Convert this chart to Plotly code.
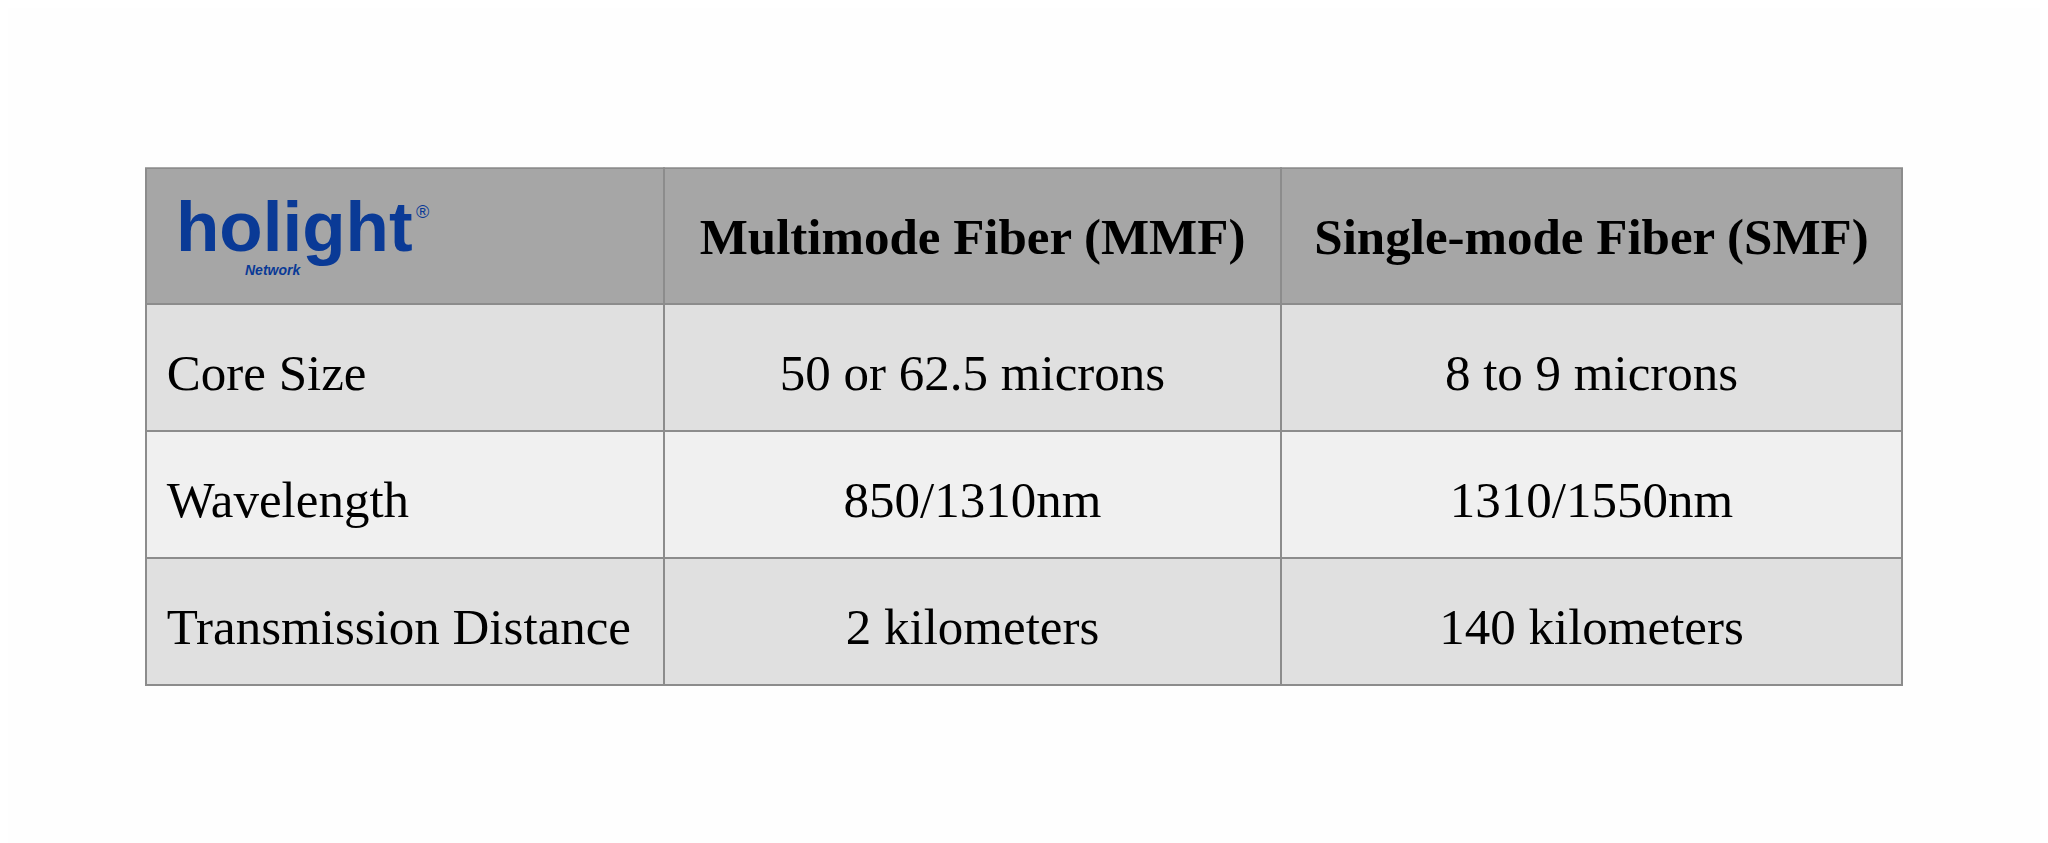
import plotly.graph_objects as go

header = ["", "Multimode Fiber (MMF)", "Single-mode Fiber (SMF)"]
features = ["Core Size", "Wavelength", "Transmission Distance"]
mmf = ["50 or 62.5 microns", "850/1310nm", "2 kilometers"]
smf = ["8 to 9 microns", "1310/1550nm", "140 kilometers"]
row_fill = ["#e0e0e0", "#f0f0f0", "#e0e0e0"]

# spacers push text toward the vertical middle of each cell
def spaced(txt, px):
    return "<span style='font-size:%dpx'> </span><br>%s" % (px, txt)

head_txt = [spaced("<b>%s</b>" % h, 14) if h else "" for h in header]
feat_txt = [spaced("&nbsp;" + f, 14) for f in features]
mmf_txt = [spaced(v, 14) for v in mmf]
smf_txt = [spaced(v, 14) for v in smf]

fig = go.Figure(go.Table(
    domain=dict(x=[138 / 2048, 1894 / 2048], y=[0.18, 0.81]),
    columnwidth=[518, 617, 621],
    header=dict(values=head_txt, fill_color="#a6a6a6", height=136,
                line=dict(color="#8c8c8c", width=1.5),
                align=["left", "center", "center"],
                font=dict(family="Liberation Serif", size=51, color="black")),
    cells=dict(values=[feat_txt, mmf_txt, smf_txt], fill_color=[row_fill] * 3, height=127,
               line=dict(color="#8c8c8c", width=1.5),
               align=["left", "center", "center"],
               font=dict(family="Liberation Serif", size=51, color="black")),
))

# logo
fig.add_annotation(x=166 / 2048, y=1 - 218 / 843, xref="paper", yref="paper",
                   text="<b>holight</b>", showarrow=False, xanchor="left", yanchor="middle",
                   font=dict(family="Liberation Sans", size=71, color="#0a3a96"))
fig.add_annotation(x=406 / 2048, y=1 - 204 / 843, xref="paper", yref="paper",
                   text="®", showarrow=False, xanchor="left", yanchor="middle",
                   font=dict(family="Liberation Sans", size=18, color="#0a3a96"))
fig.add_annotation(x=295 / 2048, y=1 - 262 / 843, xref="paper", yref="paper",
                   text="<b><i>Network</i></b>", showarrow=False, xanchor="right", yanchor="middle",
                   font=dict(family="Liberation Sans", size=14, color="#0a3a96"))

fig.update_layout(width=2048, height=843, margin=dict(l=0, r=0, t=0, b=0),
                  paper_bgcolor="#fefefe", plot_bgcolor="#fefefe")
fig.write_html("out.html")
